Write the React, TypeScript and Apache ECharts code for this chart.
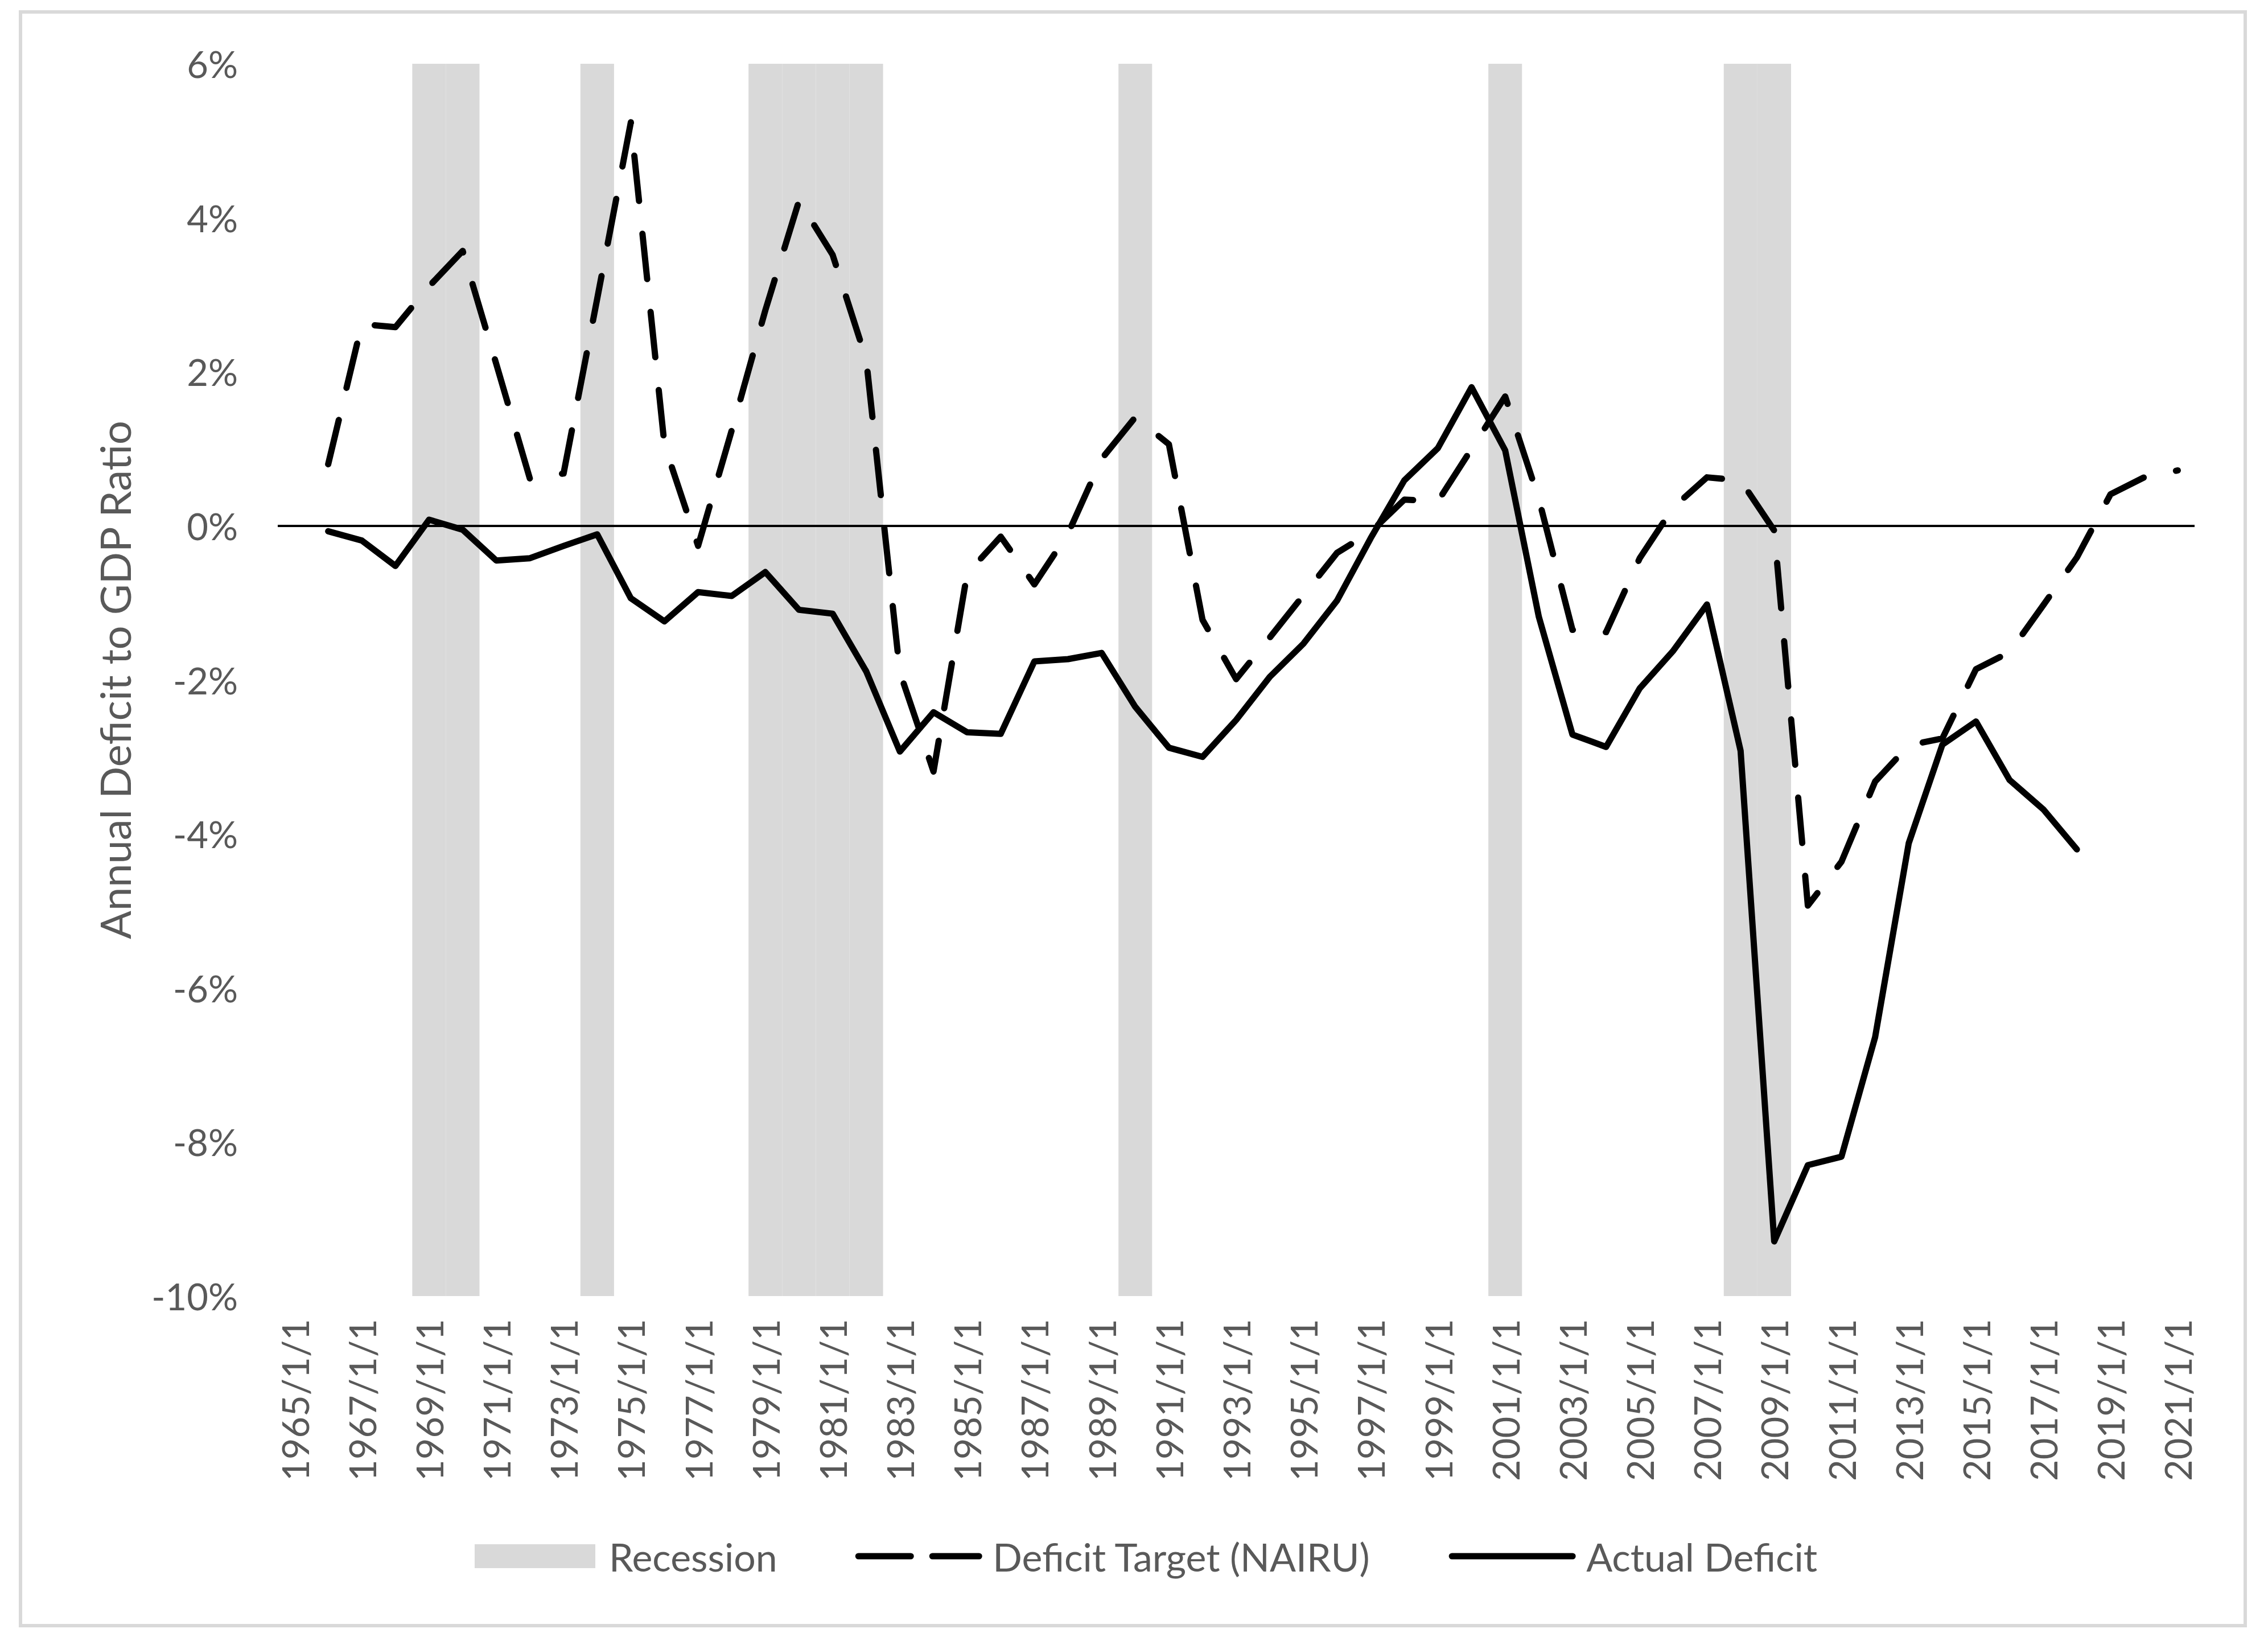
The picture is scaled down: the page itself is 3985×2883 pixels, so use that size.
import React, { useEffect, useRef } from "react";
import * as echarts from "echarts";

const years: number[] = [];
for (let y = 1965; y <= 2021; y++) years.push(y);
const categories = years.map((y) => `${y}/1/1`);

const recessionYears = [1969, 1970, 1974, 1979, 1980, 1981, 1982, 1990, 2001, 2008, 2009];

// Deficit Target (NAIRU), % of GDP, 1965..2021
const targetDeficit: (number | null)[] = [
  null, 0.8, 2.62, 2.58, 3.11, 3.57, 2.1, 0.61, 0.68, 2.95,
  5.24, 1.05, -0.26, 1.24, 2.8, 4.22, 3.52, 2.16, -1.9, -3.19,
  -0.62, -0.14, -0.76, -0.1, 0.87, 1.41, 1.06, -1.22, -1.99, -1.45,
  -0.9, -0.35, -0.08, 0.34, 0.32, 1.0, 1.68, 0.35, -1.35, -1.38,
  -0.42, 0.24, 0.63, 0.59, -0.06, -4.93, -4.36, -3.32, -2.85, -2.76,
  -1.86, -1.64, -1.03, -0.41, 0.41, 0.63, 0.72,
];

// Actual Deficit, % of GDP, 1965..2021
const actualDeficit: (number | null)[] = [
  null, -0.07, -0.19, -0.52, 0.08, -0.05, -0.45, -0.42, -0.26, -0.11,
  -0.94, -1.24, -0.86, -0.91, -0.6, -1.09, -1.14, -1.89, -2.93, -2.42,
  -2.68, -2.7, -1.76, -1.73, -1.65, -2.35, -2.88, -3.0, -2.52, -1.96,
  -1.53, -0.97, -0.16, 0.59, 1.01, 1.8, 0.98, -1.18, -2.71, -2.87,
  -2.11, -1.62, -1.02, -2.92, -9.29, -8.3, -8.19, -6.64, -4.12, -2.84,
  -2.54, -3.3, -3.68, -4.2, null, null, null,
];

const yTicks = { min: -10, max: 6, interval: 2 };

const FONT = "Lato, 'Noto Sans', sans-serif";
const TEXT = "#595959";
const LINE_W = 11;

export default function App() {
  const ref = useRef<HTMLDivElement>(null);
  useEffect(() => {
    if (!ref.current) return;
    const chart = echarts.init(ref.current, undefined, { renderer: "svg" });
    const recession = years.map((y) => (recessionYears.includes(y) ? 1 : null));
    const hiddenSymbol = { color: "rgba(0,0,0,0)", borderWidth: 0, opacity: 0 };
    chart.setOption({
      animation: false,
      backgroundColor: "#ffffff",
      textStyle: { fontFamily: FONT },
      grid: { left: 488, right: 129, top: 112, bottom: 606, containLabel: false },
      graphic: [
        {
          type: "rect",
          shape: { x: 36, y: 21, width: 3909, height: 2835 },
          style: { fill: "none", stroke: "#D9D9D9", lineWidth: 6 },
          silent: true,
          z: 0,
        },
      ],
      legend: {
        left: 829,
        top: 2695,
        itemWidth: 212,
        itemHeight: 42,
        itemGap: 137,
        textStyle: { fontSize: 68, color: TEXT, fontFamily: FONT, padding: [0, 0, 0, 19] },
        data: [
          { name: "Recession", icon: "rect", itemStyle: { borderWidth: 0 } },
          {
            name: "Deficit Target (NAIRU)",
            lineStyle: { width: LINE_W, type: [92, 38], cap: "round" },
            itemStyle: hiddenSymbol,
          },
          {
            name: "Actual Deficit",
            lineStyle: { width: LINE_W, type: "solid", cap: "round" },
            itemStyle: hiddenSymbol,
          },
        ],
      },
      xAxis: {
        type: "category",
        data: categories,
        boundaryGap: true,
        axisLine: { show: false },
        axisTick: { show: false },
        splitLine: { show: false },
        axisLabel: {
          interval: 1,
          rotate: 90,
          margin: 40,
          fontSize: 65,
          color: TEXT,
          fontFamily: FONT,
        },
      },
      yAxis: [
        {
          type: "value",
          min: yTicks.min,
          max: yTicks.max,
          interval: yTicks.interval,
          axisLine: { show: false },
          axisTick: { show: false },
          splitLine: { show: false },
          axisLabel: {
            margin: 70,
            fontSize: 65,
            color: TEXT,
            fontFamily: FONT,
            formatter: (v: number) => `${v}%`,
          },
          name: "Annual Deficit to GDP Ratio",
          nameLocation: "middle",
          nameRotate: 90,
          nameGap: 250,
          nameTextStyle: { fontSize: 74, color: TEXT, fontFamily: FONT },
        },
        { type: "value", min: 0, max: 1, show: false },
      ],
      series: [
        {
          name: "Recession",
          type: "bar",
          yAxisIndex: 1,
          data: recession,
          barCategoryGap: "0%",
          barGap: "0%",
          itemStyle: { color: "#D9D9D9", borderColor: "#D9D9D9", borderWidth: 4 },
          silent: true,
          z: 1,
        },
        {
          name: "Deficit Target (NAIRU)",
          type: "line",
          data: targetDeficit,
          symbol: "none",
          connectNulls: false,
          color: "#000000",
          lineStyle: { color: "#000000", width: LINE_W, type: [80, 58], cap: "round", join: "round" },
          z: 3,
        },
        {
          name: "Actual Deficit",
          type: "line",
          data: actualDeficit,
          symbol: "none",
          connectNulls: false,
          color: "#000000",
          lineStyle: { color: "#000000", width: LINE_W, type: "solid", cap: "round", join: "round" },
          z: 4,
          markLine: {
            silent: true,
            symbol: ["none", "none"],
            label: { show: false },
            lineStyle: { color: "#000000", width: 4, type: "solid" },
            data: [{ yAxis: 0 }],
          },
        },
      ],
    });
    return () => chart.dispose();
  }, []);
  return (
    <div
      ref={ref}
      style={{ position: "fixed", left: 0, top: 0, width: 3985, height: 2883 }}
    />
  );
}
